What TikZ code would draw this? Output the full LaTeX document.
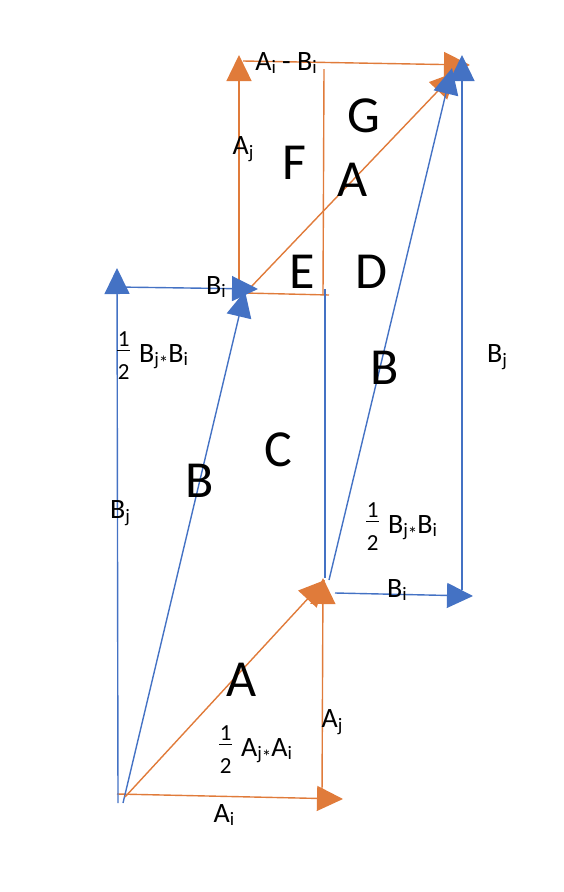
\documentclass[tikz,border=0pt]{standalone}
\usepackage{fontspec}
\setmainfont{Carlito}
\usetikzlibrary{arrows.meta}
\definecolor{ora}{HTML}{E07B3A}
\definecolor{blu}{HTML}{4472C4}
\newcommand{\lsub}[1]{\raisebox{-3.5pt}{\fontsize{19}{19}\selectfont #1}}
\newcommand{\jast}{\lsub{j\raisebox{-4pt}{*}}}
\newcommand{\halffrac}{\raisebox{-17pt}{\vbox{\offinterlineskip\fontsize{23}{23}\selectfont\halign{\hfil##\hfil\cr 1\cr\noalign{\kern4pt}\rule{13pt}{1pt}\cr\noalign{\kern13pt}2\cr}}}\hspace{9pt}}
\tikzset{
  ovec/.style={draw=ora, line width=1.4pt, -{Triangle[length=26pt,width=25pt]}},
  oline/.style={draw=ora, line width=1.4pt},
  bvec/.style={draw=blu, line width=1.4pt, -{Triangle[length=26pt,width=25pt]}},
  bline/.style={draw=blu, line width=1.4pt},
  lab/.style={inner sep=0pt, font=\fontsize{28}{28}\selectfont},
  big/.style={inner sep=0pt, font=\fontsize{52}{52}\selectfont},
}
\begin{document}
\begin{tikzpicture}[x=1pt,y=-1pt]
\useasboundingbox (0,0) rectangle (564,892);
% coordinates
\coordinate (o1) at (117,794);
\coordinate (o1e) at (343,799);
\coordinate (o2) at (322,797);
\coordinate (o2e) at (323,578);
\coordinate (o3) at (125,797);
\coordinate (o3e) at (325,580);
\coordinate (o4) at (239,292);
\coordinate (o4e) at (239,55);
\coordinate (o5) at (243,61);
\coordinate (o5e) at (470,65);
\coordinate (o6) at (324,69);
\coordinate (o6e) at (323,295);
\coordinate (o7) at (245,293);
\coordinate (o7e) at (329,295);
\coordinate (o8) at (250,288);
\coordinate (o8e) at (456,72);
\coordinate (b1) at (118,803);
\coordinate (b1e) at (117,268);
\coordinate (b2) at (117,287);
\coordinate (b2e) at (258,289);
\coordinate (b3) at (123,803);
\coordinate (b3e) at (245,291);
\coordinate (b4) at (325,289);
\coordinate (b4e) at (325,578);
\coordinate (b5) at (329,580);
\coordinate (b5e) at (452,68);
\coordinate (b6) at (335,593);
\coordinate (b6e) at (473,596);
\coordinate (b7) at (462,590);
\coordinate (b7e) at (462,55);
% orange
\draw[ovec] (o1) -- (o1e);
\draw[ovec] (o2) -- (o2e);
\draw[oline] (o6) -- (o6e);
\draw[oline] (o7) -- (o7e);
\draw[ovec] (o4) -- (o4e);
\draw[ovec] (o5) -- (o5e);
\draw[ovec] (o8) -- (o8e);
% blue
\draw[bline] (b4) -- (b4e);
\draw[bvec] (b1) -- (b1e);
\draw[bvec] (b2) -- (b2e);
\draw[bvec] (b3) -- (b3e);
\draw[bvec] (b6) -- (b6e);
\draw[bvec] (b7) -- (b7e);
\draw[bvec] (b5) -- (b5e);
\draw[ovec] (o3) -- (o3e);
% labels
\node[lab] (tAB) at (286,63) {A\lsub{i} - B\lsub{i}};
\node[lab] (tAju) at (243,149) {A\lsub{j}};
\node[big] (tF) at (294,163) {F};
\node[big] (tG) at (364,116) {G};
\node[big] (tAu) at (353,180) {A};
\node[big] (tE) at (302,272) {E};
\node[big] (tD) at (371,272) {D};
\node[lab] (tBiu) at (216,287) {B\lsub{i}};
\node[lab, anchor=base west] (tHl) at (117,362) {\halffrac B\jast B\lsub{i}};
\node[big] (tBr) at (385,368) {B};
\node[lab] (tBjr) at (497,357) {B\lsub{j}};
\node[big] (tC) at (278,450) {C};
\node[big] (tBl) at (200,481) {B};
\node[lab] (tBjl) at (120,513) {B\lsub{j}};
\node[lab, anchor=base west] (tHr) at (366,533) {\halffrac B\jast B\lsub{i}};
\node[lab] (tBil) at (397,590) {B\lsub{i}};
\node[big] (tAl) at (242,680) {A};
\node[lab] (tAjl) at (332,722) {A\lsub{j}};
\node[lab, anchor=base west] (tHa) at (219,756) {\halffrac A\jast A\lsub{i}};
\node[lab] (tAil) at (224,815) {A\lsub{i}};
\end{tikzpicture}
\end{document}
